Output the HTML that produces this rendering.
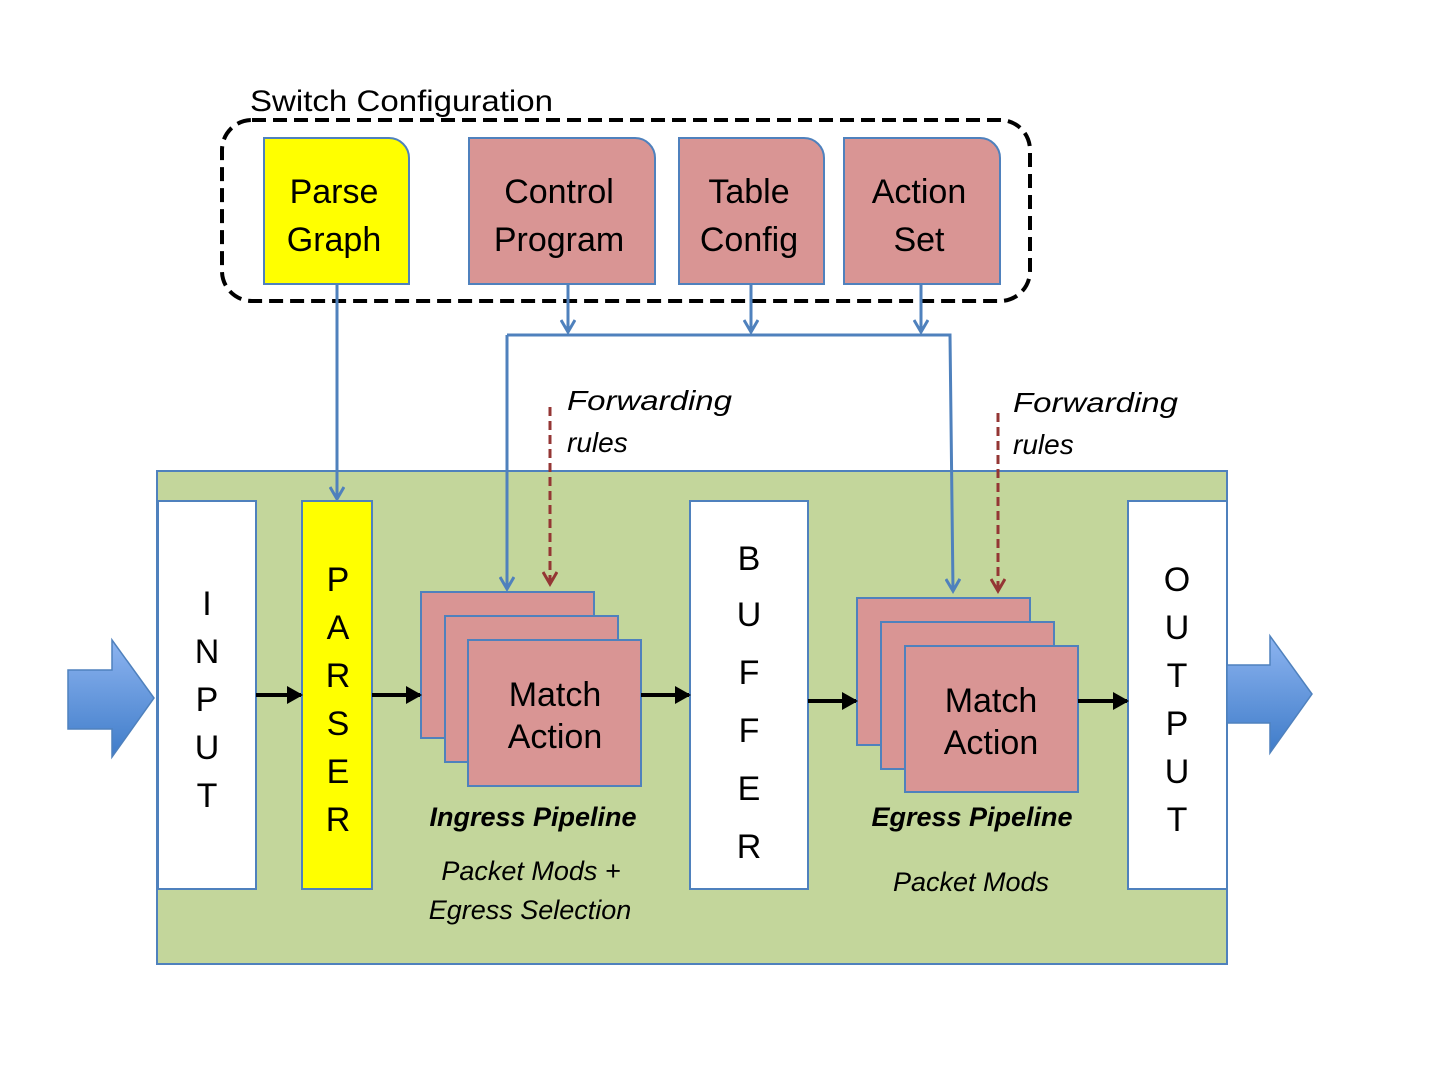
<!DOCTYPE html>
<html><head><meta charset="utf-8"><style>
html,body{margin:0;padding:0;background:#fff;width:1440px;height:1080px;overflow:hidden}
svg{display:block}
text{font-family:"Liberation Sans","DejaVu Sans",sans-serif;fill:#000}
</style></head><body>
<svg width="1440" height="1080" viewBox="0 0 1440 1080" xmlns="http://www.w3.org/2000/svg">
<defs>
<linearGradient id="ga" x1="0" y1="0" x2="0" y2="1"><stop offset="0" stop-color="#8DB4F0"/><stop offset="1" stop-color="#3F7CC9"/></linearGradient>
<marker id="bl" markerWidth="16" markerHeight="16" refX="12" refY="8" orient="auto" markerUnits="userSpaceOnUse"><path d="M1,1 L13,8 L1,15" fill="none" stroke="#4F81BD" stroke-width="3"/></marker>
<marker id="rd" markerWidth="16" markerHeight="16" refX="12" refY="8" orient="auto" markerUnits="userSpaceOnUse"><path d="M1,1 L13,8 L1,15" fill="none" stroke="#943634" stroke-width="3"/></marker>
<marker id="bk" markerWidth="16" markerHeight="18" refX="14" refY="9" orient="auto" markerUnits="userSpaceOnUse"><path d="M0,0 L16,9 L0,18z" fill="#000"/></marker>
</defs>
<text x="250" y="111" font-size="30" textLength="303" lengthAdjust="spacingAndGlyphs">Switch Configuration</text>
<rect x="222" y="120" width="808" height="181" rx="30" fill="none" stroke="#000" stroke-width="4" stroke-dasharray="14,7"/>
<g stroke="#4F81BD" stroke-width="2">
<path d="M264,138 H389 A20,20 0 0 1 409,158 V284 H264Z" fill="#FFFF00"/>
<path d="M469,138 H635 A20,20 0 0 1 655,158 V284 H469Z" fill="#D99594"/>
<path d="M679,138 H804 A20,20 0 0 1 824,158 V284 H679Z" fill="#D99594"/>
<path d="M844,138 H980 A20,20 0 0 1 1000,158 V284 H844Z" fill="#D99594"/>
</g>
<g font-size="34" text-anchor="middle">
<text x="334" y="203">Parse</text><text x="334" y="251">Graph</text>
<text x="559" y="203">Control</text><text x="559" y="251">Program</text>
<text x="749" y="203">Table</text><text x="749" y="251">Config</text>
<text x="919" y="203">Action</text><text x="919" y="251">Set</text>
</g>
<rect x="157" y="471" width="1070" height="493" fill="#C3D69B" stroke="#4F81BD" stroke-width="2"/>
<g stroke="#4F81BD" stroke-width="2">
<rect x="158" y="501" width="98" height="388" fill="#fff"/>
<rect x="302" y="501" width="70" height="388" fill="#FFFF00"/>
<rect x="690" y="501" width="118" height="388" fill="#fff"/>
<rect x="1128" y="501" width="99" height="388" fill="#fff"/>
<g fill="#D99594">
<rect x="421" y="592" width="173" height="146"/><rect x="445" y="616" width="173" height="146"/><rect x="468" y="640" width="173" height="146"/>
<rect x="857" y="598" width="173" height="147"/><rect x="881" y="622" width="173" height="147"/><rect x="905" y="646" width="173" height="146"/>
</g>
</g>
<g fill="none" stroke="#4F81BD" stroke-width="3">
<path d="M337,284 V498" marker-end="url(#bl)"/>
<path d="M568,284 V331" marker-end="url(#bl)"/>
<path d="M751,284 V331" marker-end="url(#bl)"/>
<path d="M921,284 V331" marker-end="url(#bl)"/>
<path d="M507,335 H950 L953,590" marker-end="url(#bl)"/>
<path d="M507,335 V588" marker-end="url(#bl)"/>
</g>
<g fill="none" stroke="#943634" stroke-width="3" stroke-dasharray="9,5">
<path d="M550,407 V583" marker-end="url(#rd)"/>
<path d="M998,413 V590" marker-end="url(#rd)"/>
</g>
<g stroke="#000" stroke-width="4">
<path d="M256,695 H301" marker-end="url(#bk)"/>
<path d="M372,695 H420" marker-end="url(#bk)"/>
<path d="M641,695 H689" marker-end="url(#bk)"/>
<path d="M808,701 H856" marker-end="url(#bk)"/>
<path d="M1078,701 H1127" marker-end="url(#bk)"/>
</g>
<path d="M68,670 H112 V640 L154,698 L112,757 V729 H68Z" fill="url(#ga)" stroke="#4F81BD" stroke-width="1.5"/>
<path d="M1227,665 H1270 V636 L1312,694 L1270,753 V723 H1227Z" fill="url(#ga)" stroke="#4F81BD" stroke-width="1.5"/>
<g font-size="34" text-anchor="middle">
<text x="207" y="615">I</text><text x="207" y="663">N</text><text x="207" y="711">P</text><text x="207" y="759">U</text><text x="207" y="807">T</text>
<text x="338" y="591">P</text><text x="338" y="639">A</text><text x="338" y="687">R</text><text x="338" y="735">S</text><text x="338" y="783">E</text><text x="338" y="831">R</text>
<text x="749" y="570">B</text><text x="749" y="626">U</text><text x="749" y="684">F</text><text x="749" y="742">F</text><text x="749" y="800">E</text><text x="749" y="858">R</text>
<text x="1177" y="591">O</text><text x="1177" y="639">U</text><text x="1177" y="687">T</text><text x="1177" y="735">P</text><text x="1177" y="783">U</text><text x="1177" y="831">T</text>
<text x="555" y="706">Match</text><text x="555" y="748">Action</text>
<text x="991" y="712">Match</text><text x="991" y="754">Action</text>
</g>
<g font-size="28" font-style="italic">
<text x="567" y="410" textLength="165" lengthAdjust="spacingAndGlyphs">Forwarding</text><text x="567" y="452">rules</text>
<text x="1013" y="412" textLength="165" lengthAdjust="spacingAndGlyphs">Forwarding</text><text x="1013" y="454">rules</text>
</g>
<g font-size="27" font-style="italic" text-anchor="middle">
<text x="533" y="826" font-weight="bold">Ingress Pipeline</text>
<text x="531" y="880">Packet Mods +</text>
<text x="530" y="919">Egress Selection</text>
<text x="972" y="826" font-weight="bold">Egress Pipeline</text>
<text x="971" y="891">Packet Mods</text>
</g>
</svg>
</body></html>
